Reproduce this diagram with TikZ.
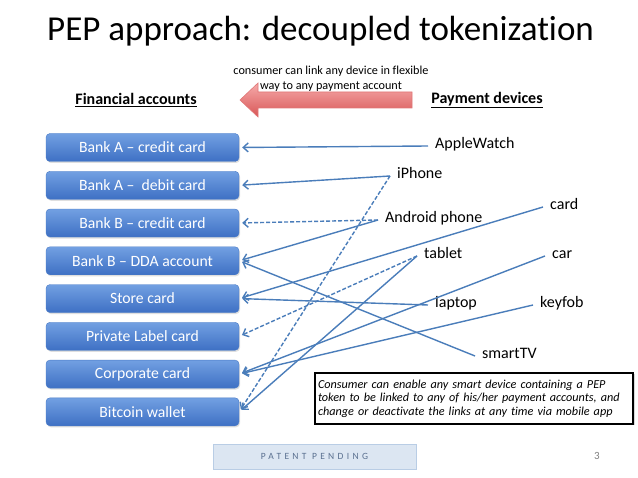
\documentclass[tikz,border=0pt]{standalone}
\usepackage{fontspec}
\setmainfont{Carlito}[Ligatures=NoCommon]
\usetikzlibrary{arrows.meta,positioning,shadows}

\definecolor{accttop}{HTML}{72A0E2}
\definecolor{acctbot}{HTML}{3E70C4}
\definecolor{acctline}{HTML}{4A7BC6}
\definecolor{linkblue}{HTML}{4A7DBA}
\definecolor{arrowtop}{HTML}{F6ABAB}
\definecolor{arrowbot}{HTML}{D85656}
\definecolor{arrowline}{HTML}{E07777}
\definecolor{patentfill}{HTML}{DCE6F2}
\definecolor{patentline}{HTML}{B9CDE5}
\definecolor{patenttext}{HTML}{5A7090}

\begin{document}
\begin{tikzpicture}[x=1pt, y=-1pt, >={Straight Barb[length=5pt,width=9pt]}, node distance=9.36pt]
    \tikzset{
        account/.style={rectangle, rounded corners=4pt, draw=acctline, top color=accttop, bottom color=acctbot, minimum width=193pt, minimum height=28pt, inner sep=0pt, text=white, font=\fontsize{15.7}{18}\selectfont, drop shadow={opacity=0.25, shadow xshift=1pt, shadow yshift=-1.5pt}},
        device/.style={anchor=west, inner xsep=7pt, inner ysep=1pt, text height=1.5ex, text depth=.3ex, font=\fontsize{16}{18}\selectfont},
        heading/.style={font=\fontsize{16}{18}\selectfont\bfseries},
        link/.style={->, draw=linkblue, line width=1.4pt, shorten >=3pt},
        maybelink/.style={link, dash pattern=on 4pt off 2pt}
    }
    \useasboundingbox[fill=white] (0,0) rectangle (638,478);

    \node[anchor=base west, inner sep=0pt, font=\fontsize{35}{40}\selectfont] (title) at (47,41) {PEP approach: decoupled tokenization};

    \node[heading] (finhead) at (136,100) {\underline{Financial accounts}};
    \node[heading] (devhead) at (487,100) {\underline{Payment devices}};

    % block arrow from devices to accounts
    \shade[top color=arrowtop, bottom color=arrowbot, draw=arrowline, line width=0.6pt]
        (412,92) -- (258,92) -- (258,83) -- (240,100) -- (258,117) -- (258,108) -- (412,108) -- cycle;
    \node[align=center, font=\fontsize{12.2}{15}\selectfont] (linknote) at (331,79) {consumer can link any device in flexible\\way to any payment account};

    % financial accounts
    \node[account] (bankAcc) at (142.5,147.5) {Bank A -- credit card};
    \node[account, below=of bankAcc] (bankAdc) {Bank A -- \ debit card};
    \node[account, below=of bankAdc] (bankBcc) {Bank B -- credit card};
    \node[account, below=of bankBcc] (bankBdda) {Bank B -- DDA account};
    \node[account, below=of bankBdda] (store) {Store card};
    \node[account, below=of store] (private) {Private Label card};
    \node[account, below=of private] (corporate) {Corporate card};
    \node[account, below=of corporate] (bitcoin) {Bitcoin wallet};

    % payment devices
    \node[device] (applewatch) at (428,146) {AppleWatch};
    \node[device] (iphone) at (390,176) {iPhone};
    \node[device] (android) at (378,220) {Android phone};
    \node[device] (card) at (543,207) {card};
    \node[device] (tablet) at (417,256) {tablet};
    \node[device] (car) at (545,256) {car};
    \node[device] (laptop) at (428,305) {laptop};
    \node[device] (keyfob) at (533,305) {keyfob};
    \node[device] (smarttv) at (475,356) {smartTV};

    \draw[link] (applewatch.west) -- (bankAcc.east);
    \draw[link] (iphone.west) -- (bankAdc.east);
    \draw[maybelink] (iphone.west) -- (bitcoin.east);
    \draw[maybelink] (android.west) -- (bankBcc.east);
    \draw[link] (android.west) -- (bankBdda.east);
    \draw[link] (smarttv.west) -- (bankBdda.east);
    \draw[link] (card.west) -- (store.east);
    \draw[link] (laptop.west) -- (store.east);
    \draw[maybelink] (tablet.west) -- (private.east);
    \draw[link] (tablet.west) -- (bitcoin.east);
    \draw[link] (car.west) -- (corporate.east);
    \draw[link] (keyfob.west) -- (corporate.east);

    \node[draw=black, line width=1.3pt, fill=white, minimum width=318pt, minimum height=51pt, inner xsep=3pt, text width=312pt, align=left,
          font=\fontsize{12.2}{13.5}\selectfont\itshape, drop shadow={opacity=0.3, shadow xshift=1.5pt, shadow yshift=-1.5pt}] (infobox) at (474,398.5)
        {Consumer can enable any smart device containing a PEP\\token to be linked to any of his/her payment accounts, and\\change or deactivate the links at any time via mobile app};

    \node[draw=patentline, fill=patentfill, minimum width=203pt, minimum height=25pt, text=patenttext,
          font=\fontsize{9.5}{11}\selectfont\addfontfeature{LetterSpace=35}] (patent) at (314.5,456.5) {PATENT PENDING};
    \node[text=gray, font=\fontsize{11}{12}\selectfont] (pagenum) at (597,456) {3};
\end{tikzpicture}
\end{document}
